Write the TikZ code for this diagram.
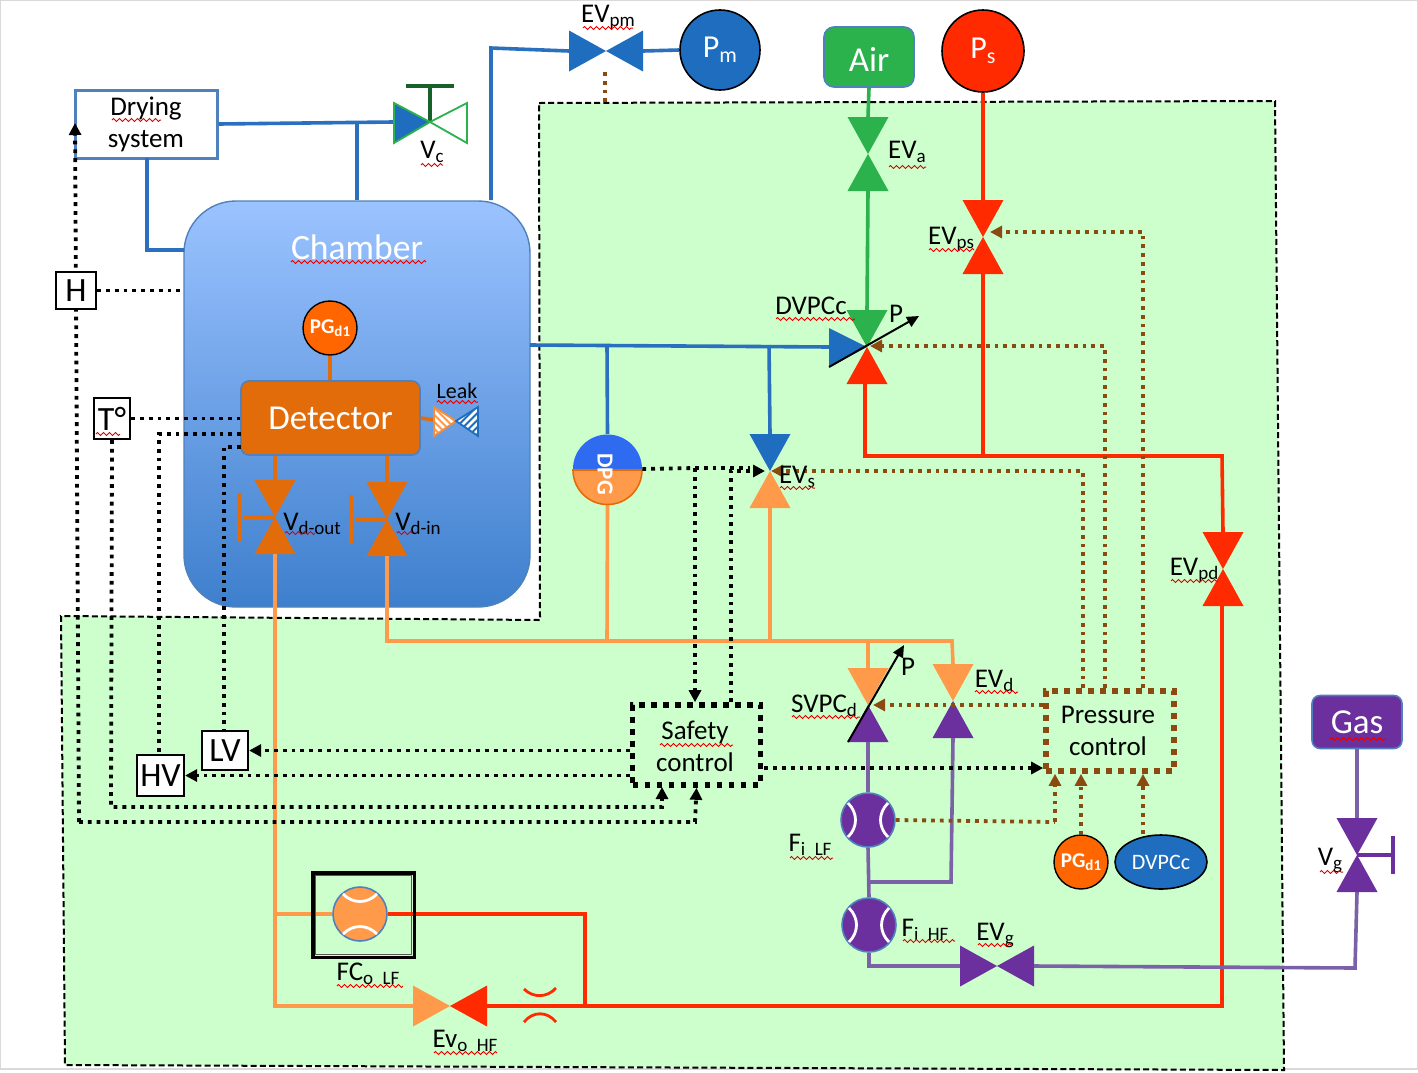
\documentclass[tikz,border=0pt]{standalone}
\usepackage{fontspec}
\setmainfont{Carlito}
\usetikzlibrary{arrows.meta,decorations.pathmorphing,shapes.geometric,calc}
\definecolor{cgreen}{HTML}{CCFFCC}
\definecolor{cblue}{HTML}{1F6DBE}
\definecolor{cpipeblue}{HTML}{2A70BE}
\definecolor{cbright}{HTML}{2F6BF0}
\definecolor{cgrn}{HTML}{2BB24C}
\definecolor{cred}{HTML}{FF2A00}
\definecolor{corg}{HTML}{FF9A4A}
\definecolor{cdet}{HTML}{E36C0A}
\definecolor{cpg}{HTML}{FF6600}
\definecolor{cpur}{HTML}{6B2F9E}
\definecolor{cpurl}{HTML}{7B62A6}
\definecolor{cbrown}{HTML}{8B4A10}
\definecolor{cedge}{HTML}{4F81BD}
\definecolor{chtop}{HTML}{9BC3FF}
\definecolor{chbot}{HTML}{3E7FCD}
\newcommand{\sbs}[1]{\raisebox{-.35ex}{\fontsize{9.5}{10}\selectfont #1}}
\newcommand{\sq}[3]{\draw[squig] (#1,#3) -- (#2,#3);}
% vertical valve: name, x, y, top colour, bottom colour
\newcommand{\vvalve}[5]{%
  \coordinate (#1) at (#2,#3);
  \coordinate (#1-t) at ([shift={(0,-37)}]#1);
  \coordinate (#1-b) at ([shift={(0,37)}]#1);
  \fill[#4] ([shift={(-20.5,-37)}]#1) -- ([shift={(20.5,-37)}]#1) -- (#1) -- cycle;
  \fill[#5] ([shift={(-20.5,37)}]#1) -- ([shift={(20.5,37)}]#1) -- (#1) -- cycle;
}
% horizontal valve: name, x, y, left colour, right colour
\newcommand{\hvalve}[5]{%
  \coordinate (#1) at (#2,#3);
  \coordinate (#1-l) at ([shift={(-37,0)}]#1);
  \coordinate (#1-r) at ([shift={(37,0)}]#1);
  \fill[#4] ([shift={(-37,-20.5)}]#1) -- ([shift={(-37,20.5)}]#1) -- (#1) -- cycle;
  \fill[#5] ([shift={(37,-20.5)}]#1) -- ([shift={(37,20.5)}]#1) -- (#1) -- cycle;
}
\tikzset{
  x=0.5pt,y=-0.5pt,
  fs/.style={font=\fontsize{#1}{#1}\selectfont},
  pipe/.style={line width=1.8pt,line cap=butt,line join=miter},
  squig/.style={red!90!black,line width=.5pt,decorate,decoration={zigzag,segment length=3pt,amplitude=.75pt}},
  blk/.style={line width=1.9pt,black,dash pattern=on 1.9pt off 2.5pt},
  brn/.style={line width=1.9pt,cbrown,dash pattern=on 1.9pt off 2.5pt},
  blkar/.style={blk,-{Triangle[length=6pt,width=6pt]}},
  brnar/.style={brn,-{Triangle[length=6pt,width=6pt]}},
  lab/.style={anchor=base,inner sep=0pt,fs=13.5},
  ball/.style={circle,inner sep=0pt,minimum size=27pt,draw=cedge,line width=.8pt},
  bigtext/.style={fs=17.5,text=white},
  sq box/.style={draw=black,line width=1.1pt,fill=white,inner sep=0pt,fs=17},
  thick dash/.style={line width=2.8pt,dash pattern=on 2.8pt off 3.2pt,inner sep=0pt},
}
\begin{document}
\begin{tikzpicture}
\useasboundingbox (0,0) rectangle (1418,1072);
\fill[white] (0,0) rectangle (1418,1072);
\draw[black!15,line width=1pt] (0,0) rectangle (1418,1069);
% green zone
\fill[cgreen] (539,103) -- (1275,101) -- (1284,1070) -- (65,1065) -- (61,616) -- (540,620) -- cycle;
\draw[black,line width=1pt,dash pattern=on 3pt off 1.6pt] (539,103) -- (1275,101) -- (1284,1070) -- (65,1065) -- (61,616) -- (540,620) -- cycle;
% chamber
\node[rectangle,rounded corners=26pt,minimum width=173pt,minimum height=203pt,draw=cedge,line width=.7pt,top color=chtop,bottom color=chbot] (chamber) at (357,404) {};
% drying box and humidity signal that overlies it
\node[draw=cedge,line width=1.5pt,fill=white,minimum width=71pt,minimum height=34pt,inner sep=0pt] (drying) at (146,124) {};
\coordinate (s1) at (79,822);
\coordinate (s2) at (695,822);
\coordinate (s3) at (75,123);
\draw[blkar] (s1) -- (s3);
% main nodes
\node[rectangle,rounded corners=5pt,fill=cgrn,draw=cedge,line width=.8pt,minimum width=45pt,minimum height=30pt,inner sep=0pt,bigtext,text depth=0pt] (air) at (869,57) {\raisebox{-2pt}{Air}};
\node[circle,fill=cred,draw=black,line width=.8pt,minimum size=41pt,inner sep=0pt,fs=16,text=white] (ps) at (983,51) {P\raisebox{-.35ex}{\fontsize{11}{11}\selectfont s}};
\node[circle,fill=cblue,draw=black,line width=.8pt,minimum size=40pt,inner sep=0pt,fs=16,text=white] (pm) at (720,50) {P\raisebox{-.35ex}{\fontsize{11}{11}\selectfont m}};
\node[rectangle,rounded corners=4pt,fill=cdet,draw=cedge,line width=.8pt,minimum width=89.5pt,minimum height=37pt,inner sep=0pt,fs=17.5,text=white] (detector) at (330.5,418) {Detector};
\node[circle,fill=cpg,draw=black,line width=.7pt,minimum size=27pt,inner sep=0pt,text=white] (pgchamber) at (330,328) {\fontsize{10.5}{10}\bfseries\selectfont PG\raisebox{-.3ex}{\fontsize{7.5}{7}\selectfont d1}};
\node[circle,fill=cpg,draw=black,line width=.7pt,minimum size=27pt,inner sep=0pt,text=white] (pgctrl) at (1081,862) {\fontsize{10.5}{10}\bfseries\selectfont PG\raisebox{-.3ex}{\fontsize{7.5}{7}\selectfont d1}};
\node[ellipse,fill=cblue,draw=black,line width=.8pt,minimum width=46pt,minimum height=27pt,inner sep=0pt,fs=11,text=white] (dvpcnode) at (1161,862) {DVPCc};
\node[rectangle,rounded corners=4pt,fill=cpur,draw=cedge,line width=.8pt,minimum width=45pt,minimum height=26.5pt,inner sep=0pt,bigtext] (gas) at (1357,722) {\raisebox{-1pt}{Gas}};
\node[sq box,minimum width=20pt,minimum height=18.5pt] (hbox) at (76,290.5) {H};
\node[sq box,minimum width=18pt,minimum height=20.5pt] (tbox) at (112,418.5) {T°};
\node[sq box,minimum width=23pt,minimum height=19.5pt] (lv) at (225,750.5) {LV};
\node[sq box,minimum width=23.5pt,minimum height=20.5pt] (hv) at (160.5,775.5) {HV};
\node[draw=black,thick dash,minimum width=64pt,minimum height=40pt] (safety) at (696.5,745) {};
\node[draw=cbrown,thick dash,minimum width=64pt,minimum height=40pt] (pressure) at (1110,731) {};
\node[circle,inner sep=0pt,minimum size=34.5pt] (dpg) at (607.5,469) {};
\node[minimum width=50.5pt,minimum height=42pt,inner sep=0pt] (fcbox) at (363.5,915) {};
\node[ball,fill=cpur] (filf) at (868,820) {};
\node[ball,fill=cpur] (fihf) at (869,925) {};
\node[ball,fill=corg] (fco) at (360,914) {};
% junctions and route corners
\coordinate (jdry) at (357,123);
\coordinate (dryb) at (147,158);
\coordinate (chl) at (184,250);
\coordinate (chtop) at (491,200);
\coordinate (pmc) at (491,48);
\coordinate (bm) at (530,345);
\coordinate (bd) at (607,345);
\coordinate (be) at (769,345);
\coordinate (jps) at (983,456);
\coordinate (rc1) at (865,456);
\coordinate (rc2) at (1222,456);
\coordinate (rbot) at (1222,1006);
\coordinate (jfc) at (585,1006);
\coordinate (ofc) at (275,914);
\coordinate (obot) at (275,1006);
\coordinate (oml) at (387,641);
\coordinate (omd) at (607,641);
\coordinate (oms) at (770,641);
\coordinate (omv) at (868,641);
\coordinate (omr) at (952,641);
\coordinate (pj1) at (868,882);
\coordinate (pc2) at (951,882);
\coordinate (gasc) at (1355,968);
% valve shapes
\vvalve{eva}{868}{154}{cgrn}{cgrn}
\vvalve{evps}{983}{237}{cred}{cred}
\vvalve{dvpc}{867}{347}{cgrn}{cred}
\vvalve{evs}{770}{471}{cblue}{corg}
\vvalve{svpc}{868}{705}{corg}{cpur}
\vvalve{evd}{953}{701}{corg}{cpur}
\vvalve{evpd}{1223}{569}{cred}{cred}
\vvalve{vg}{1357}{855}{cpur}{cpur}
\vvalve{vdout}{275}{517}{cdet}{cdet}
\vvalve{vdin}{387}{519}{cdet}{cdet}
\hvalve{evpm}{606}{51}{cblue}{cblue}
\hvalve{evg}{997}{966}{cpur}{cpur}
\hvalve{evo}{450}{1006}{corg}{cred}
\coordinate (vc) at (430,122);
\coordinate (vc-l) at (393,122);
\coordinate (vch) at (430,86);
\coordinate (leakc) at (456,421);
\coordinate (leakl) at (434,420);
% pipes: blue
\draw[pipe,cpipeblue] (drying.east) -- (vc-l);
\draw[pipe,cpipeblue] (jdry) -- (jdry |- chamber.north);
\draw[pipe,cpipeblue] (dryb) -- (dryb |- chl) -- (chl);
\draw[pipe,cpipeblue] (chtop) -- (pmc) -- (evpm-l);
\draw[pipe,cpipeblue] (evpm-r) -- (pm.west);
\draw[pipe,cpipeblue] (bm) -- ([shift={(-37,0)}]dvpc);
\draw[pipe,cpipeblue] (bd) -- (dpg.north);
\draw[pipe,cpipeblue] (be) -- (evs-t);
% green
\draw[pipe,cgrn] (air.south) -- (eva-t);
\draw[pipe,cgrn] (eva-b) -- (dvpc-t);
% red
\draw[pipe,cred] (ps.south) -- (evps-t);
\draw[pipe,cred] (evps-b) -- (jps);
\draw[pipe,cred] ([shift={(-2,0)}]dvpc-b) -- (rc1) -- (rc2) -- (evpd-t);
\draw[pipe,cred] (evo-r) -- (rbot) -- ([shift={(-1,0)}]evpd-b);
\draw[pipe,cred] (fco.east) -| (jfc);
% orange
\draw[pipe,corg] (vdout-b) -- (obot) -- (evo-l);
\draw[pipe,corg] (ofc) -- (fco.west);
\draw[pipe,corg] (vdin-b) -- (oml) -- (omr) -- (evd-t);
\draw[pipe,corg] (dpg.south) -- (omd);
\draw[pipe,corg] (evs-b) -- (oms);
\draw[pipe,corg] (omv) -- (svpc-t);
\draw[pipe,cdet] (detector.south -| vdout) -- (vdout-t);
\draw[pipe,cdet] (detector.south -| vdin) -- (vdin-t);
\draw[pipe,cdet] (pgchamber.south) -- (pgchamber.south |- detector.north);
\draw[pipe,cdet] (detector.east) -- (leakl);
% purple
\draw[pipe,cpurl] (svpc-b) -- (filf.north);
\draw[pipe,cpurl] (filf.south) -- (fihf.north);
\draw[pipe,cpurl] (pj1) -- (pc2) -- (evd-b);
\draw[pipe,cpurl] (fihf.south) |- (evg-l);
\draw[pipe,cpurl] (evg-r) -- (gasc) -- (vg-b);
\draw[pipe,cpurl] (gas.south -| vg) -- (vg-t);
% valve handles
\draw[line width=1.6pt,black!45!cgrn] (vc) -- (vch);
\draw[line width=1.6pt,black!45!cgrn] ([shift={(-24,0)}]vch) -- ([shift={(24,0)}]vch);
\draw[line width=1.6pt,cdet] (vdout) -- ([shift={(-32,0)}]vdout);
\draw[line width=1.6pt,cdet] ([shift={(-36,-24)}]vdout) -- ([shift={(-36,24)}]vdout);
\draw[line width=1.6pt,cdet] (vdin) -- ([shift={(-32,0)}]vdin);
\draw[line width=1.6pt,cdet] ([shift={(-36,-24)}]vdin) -- ([shift={(-36,24)}]vdin);
\draw[line width=1.6pt,cpur] (vg) -- ([shift={(36,0)}]vg);
\draw[line width=1.6pt,cpur] ([shift={(36,-19)}]vg) -- ([shift={(36,19)}]vg);
% Vc valve
\filldraw[draw=cgrn,fill=cblue,line width=.9pt] (394,103) -- (394,143) -- (vc) -- cycle;
\filldraw[draw=cgrn,fill=white,line width=.9pt] (467,103) -- (467,143) -- (vc) -- cycle;
% DVPC left triangle
\fill[cblue] ([shift={(-38,-19)}]dvpc) -- ([shift={(-38,20)}]dvpc) -- (dvpc) -- cycle;
% Leak valve
\begin{scope}
\clip (434,407) -- (434,436) -- (leakc) -- cycle;
\fill[corg] (430,400) rectangle (460,440);
\foreach \k in {0,7,14,21,28,35} \draw[white,line width=1.4pt] (432,430-\k) -- (458,456-\k);
\end{scope}
\draw[corg!70!cdet,line width=.9pt] (434,407) -- (434,436) -- (leakc) -- cycle;
\begin{scope}
\clip (478,407) -- (478,436) -- (leakc) -- cycle;
\fill[cblue] (452,400) rectangle (482,440);
\foreach \k in {-14,-7,0,7,14,21} \draw[white,line width=1.4pt] (480,414+\k) -- (454,440+\k);
\end{scope}
\draw[cblue,line width=.9pt] (478,407) -- (478,436) -- (leakc) -- cycle;
% restriction
\draw[cred,line width=1.4pt] (524,989) .. controls (533,998) and (547,998) .. (556,988);
\draw[cred,line width=1.4pt] (524,1022) .. controls (533,1011) and (547,1011) .. (556,1022);
% DPG
\fill[cbright] (573,469) arc[start angle=180,end angle=0,radius=17.25pt] -- cycle;
\filldraw[fill=corg,draw=cdet,line width=.8pt] (573,470) arc[start angle=180,end angle=360,radius=17.25pt] -- cycle;
\node[rotate=-90,font=\fontsize{11.5}{11.5}\selectfont\bfseries,text=white,inner sep=0pt] (dpgt) at (605,474) {DPG};
% ball seams
\foreach \b in {filf,fihf}{
  \draw[white,line width=1.4pt,shift={(\b)}] (-20,-17) .. controls (-10,-7) and (-10,7) .. (-20,17);
  \draw[white,line width=1.4pt,shift={(\b)}] (20,-17) .. controls (10,-7) and (10,7) .. (20,17);
}
\draw[white,line width=1.4pt,shift={(fco)}] (-17,-20) .. controls (-7,-10) and (7,-10) .. (17,-20);
\draw[white,line width=1.4pt,shift={(fco)}] (-17,20) .. controls (-7,10) and (7,10) .. (17,20);
% FC box
\draw[black,line width=1.9pt] (fcbox.north west) rectangle (fcbox.south east);
\draw[black!65,line width=.6pt] ([shift={(3,3)}]fcbox.north west) rectangle ([shift={(-3,-3)}]fcbox.south east);
% black proportional arrows
\draw[line width=1pt,black,-{Triangle[length=6pt,width=5.5pt]}] ([shift={(-38,20)}]dvpc) -- ([shift={(52,-31)}]dvpc);
\draw[line width=1pt,black,-{Triangle[length=6pt,width=5.5pt]}] ([shift={(-20,37)}]svpc) -- ([shift={(36,-60)}]svpc);
% signal lines: black
\coordinate (t1) at (111,807);
\coordinate (t2) at (662,807);
\coordinate (t3) at (662,787);
\coordinate (hvc) at (159,434);
\coordinate (lvc) at (224,447);
\coordinate (jdp) at (695,468);
\coordinate (sc1) at (731,471);
\draw[blkar] (s1) -- (s2) -- (safety.south);
\draw[blk] (hbox.east) -- (chl |- hbox.east);
\draw[blk] (tbox.east) -- (detector.west |- tbox.east);
\draw[blkar] (tbox.south) -- (t1) -- (t2) -- (t3);
\draw[blk] (241,434) -- (hvc) -- (hvc |- hv.north);
\draw[blk] (241,447) -- (lvc) -- (lvc |- lv.north);
\draw[blkar] (safety.west |- lv.east) -- (lv.east);
\draw[blkar] (safety.west |- hv.east) -- (hv.east);
\draw[blk] (dpg.east) -- (jdp);
\draw[blk] (jdp) -- ([shift={(55,0)}]jdp);
\draw[blkar] (jdp) -- (safety.north -| jdp);
\draw[blkar] (safety.north -| sc1) -- (sc1) -- ([shift={(-5,0)}]evs);
\draw[blkar] ([shift={(1,23)}]safety.east) -- (pressure.west |- 0,768);
% signal lines: brown
\coordinate (bp1) at (1143,232);
\coordinate (bp2) at (1105,346);
\coordinate (bp3) at (1083,471);
\coordinate (bf1) at (1055,822);
\draw[brn] (evpm) ++(-1,21) -- (605,102);
\draw[brnar] (pressure.north -| bp1) -- (bp1) -- ([shift={(7,-5)}]evps);
\draw[brnar] (pressure.north -| bp2) -- (bp2) -- ([shift={(3,-1)}]dvpc);
\draw[brnar] (pressure.north -| bp3) -- (bp3) -- ([shift={(1,0)}]evs);
\draw[brnar] (pressure.west |- svpc) -- ([shift={(5,0)}]svpc);
\draw[brn] (filf.east) -- (bf1);
\draw[brnar] (bf1) -- (bf1 |- pressure.south);
\draw[brnar] (pgctrl.north) -- (pgctrl.north |- pressure.south);
\draw[brnar] (dvpcnode.north -| bp1) -- (bp1 |- pressure.south);
% text labels
\node[align=center,fs=13.5] (drytxt) at (146,124) {Drying\\[2.4pt]system};
\node[fs=17.8,text=white,inner sep=0pt] (chtxt) at (357,247) {Chamber};
\node[align=center,fs=13.5] (saftxt) at (695,746) {Safety\\[2.4pt]control};
\node[align=center,fs=13.5] (prtxt) at (1108,731) {Pressure\\[2.4pt]control};
\node[lab] (lvc1) at (432,158) {V\sbs{c}};
\node[lab] (levpm) at (608,22) {EV\sbs{pm}};
\node[lab] (leva) at (907,158) {EV\sbs{a}};
\node[lab] (levps) at (951,244) {EV\sbs{ps}};
\node[lab] (ldvpc) at (811,314) {DVPCc};
\node[lab] (lp1) at (896,322) {P};
\node[lab] (levs) at (797,483) {EV\sbs{s}};
\node[lab] (levpd) at (1194,575) {EV\sbs{pd}};
\node[lab] (levd) at (994,687) {EV\sbs{d}};
\node[lab] (lsvpc) at (824,712) {SVPC\sbs{d}};
\node[lab] (lp2) at (908,675) {P};
\node[lab] (lfilf) at (810,851) {F\sbs{i\,\,\,LF}};
\node[lab] (lfihf) at (925,936) {F\sbs{i\,\,\,HF}};
\node[lab] (levg) at (995,940) {EV\sbs{g}};
\node[lab] (lvg) at (1330,865) {V\sbs{g}};
\node[lab] (lfco) at (368,980) {FC\sbs{o\,\,\,LF}};
\node[lab] (levo) at (465,1047) {Ev\sbs{o\,\,\,HF}};
\node[lab,fs=11] (lleak) at (457,398) {Leak};
\node[lab] (lvdo) at (312,530) {V\sbs{d-out}};
\node[lab] (lvdi) at (418,530) {V\sbs{d-in}};
% spell-check underlines
\sq{112}{161}{120}\sq{291}{426}{262}\sq{421}{443}{165}\sq{583}{633}{28}
\sq{889}{926}{167}\sq{929}{974}{250}\sq{776}{855}{319}\sq{780}{815}{488}
\sq{1171}{1218}{581}\sq{975}{1018}{692}\sq{792}{860}{717}\sq{660}{733}{745}
\sq{790}{833}{858}\sq{903}{955}{941}\sq{978}{1012}{945}\sq{1320}{1343}{872}
\sq{1330}{1386}{739}\sq{337}{403}{986}\sq{434}{497}{1053}\sq{437}{478}{402}
\sq{285}{315}{533}\sq{397}{412}{533}\sq{96}{120}{434}
\end{tikzpicture}
\end{document}
